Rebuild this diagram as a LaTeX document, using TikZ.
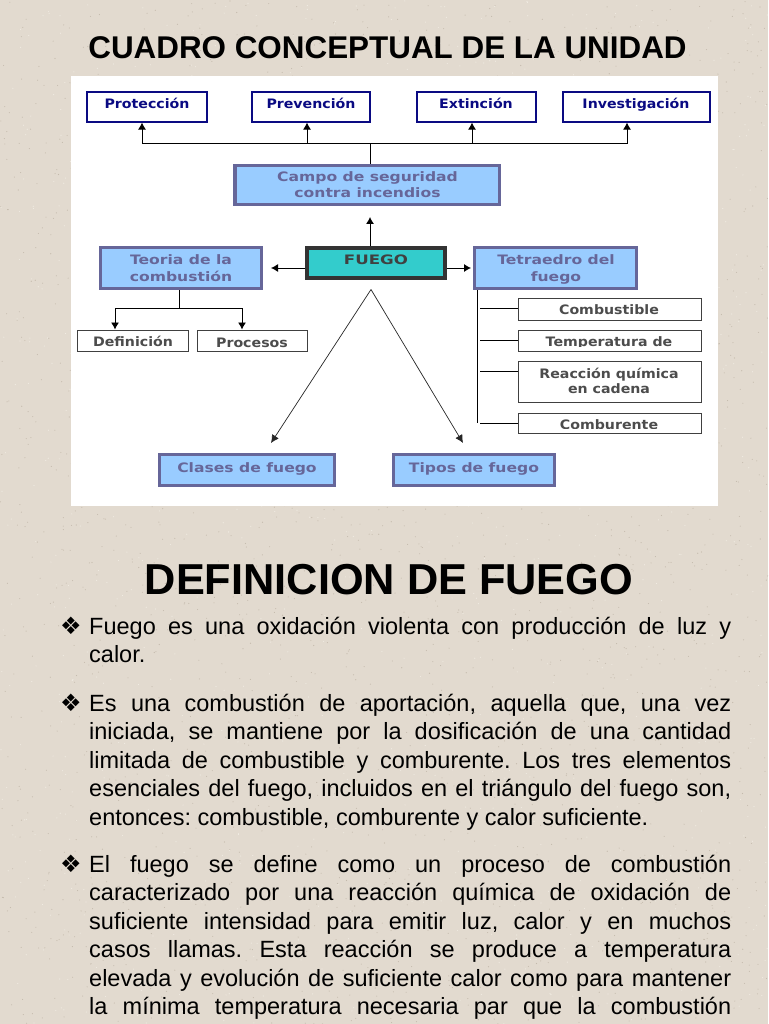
\documentclass[tikz,border=0pt]{standalone}
\usepackage{fontspec}
\setmainfont{Liberation Sans}
\newfontfamily\dv{DejaVu Sans}
\newfontfamily\dvt[FakeStretch=1.09]{DejaVu Sans}
\newfontfamily\dvb[FakeStretch=1.2]{DejaVu Sans}
\newfontfamily\dvf[FakeStretch=1.28]{DejaVu Sans}
\usetikzlibrary{arrows.meta}
\definecolor{paper}{RGB}{226,218,207}
\definecolor{speckA}{RGB}{196,186,172}
\definecolor{speckB}{RGB}{240,235,226}
\definecolor{navy}{RGB}{10,10,130}
\definecolor{slate}{RGB}{102,102,153}
\definecolor{sky}{RGB}{153,204,255}
\definecolor{teal}{RGB}{51,204,204}
\newcommand{\jl}[1]{\hbox to 642pt{#1}}
\newcommand{\para}[1]{\vtop{\hsize=642pt\baselineskip=28.5pt\lineskiplimit=-20pt\frenchspacing\fontsize{23.5}{28.5}\selectfont #1}}
\tikzset{
  x=1pt,y=-1pt,
  topbox/.style={draw=navy,line width=1.2pt,fill=white,inner sep=0pt},
  toptext/.style={text=navy,font=\dvt\bfseries\fontsize{13}{15}\selectfont,inner sep=0pt},
  bluebox/.style={draw=slate,line width=3.5pt,fill=sky,inner sep=0pt},
  bluetext/.style={text=slate,font=\dvb\bfseries\fontsize{13}{16}\selectfont,inner sep=0pt,align=center},
  firebox/.style={draw=black!80,line width=3.5pt,fill=teal,inner sep=0pt},
  firetext/.style={text=black!75,font=\dvf\bfseries\fontsize{13}{15}\selectfont,inner sep=0pt},
  whitebox/.style={draw=black!75,line width=1pt,fill=white,inner sep=0pt},
  whitetext/.style={text=black!70,font=\dvt\bfseries\fontsize{13}{15}\selectfont,inner sep=0pt,align=center},
  link/.style={draw=black,line width=0.9pt},
  arrow/.style={link,-{Latex[length=7pt,width=8pt]}},
  thinarrow/.style={draw=black!85,line width=0.7pt,-{Latex[length=8pt,width=8pt]}},
  bodytext/.style={anchor=base west,inner sep=0pt},
  bullet/.style={anchor=base west,inner sep=0pt,font=\dv\fontsize{24}{26}\selectfont},
}
\newcommand{\boxat}[6]{\node[#1,minimum width=#4-#2,minimum height=#5-#3,anchor=center] (#6) at ({(#2+#4)/2},{(#3+#5)/2})}
\begin{document}
\begin{tikzpicture}
\useasboundingbox (0,0) rectangle (768,1024);
\fill[paper] (0,0) rectangle (768,1024);
\pgfmathsetseed{17}
\fill[speckA] \foreach \i in {1,...,2200}{ ({rnd*768},{rnd*1024}) circle[radius=0.55] };
\fill[speckB] \foreach \i in {1,...,1200}{ ({rnd*768},{rnd*1024}) circle[radius=0.6] };
\fill[white] (71,76) rectangle (718,506);

\node[anchor=base,inner sep=0pt,font=\bfseries\fontsize{31.4}{36}\selectfont] (title) at (387.5,59) {CUADRO CONCEPTUAL DE LA UNIDAD};

% top row
\boxat{topbox}{87}{92}{207}{122}{prot} {};
\boxat{topbox}{252}{92}{370}{122}{prev} {};
\boxat{topbox}{417}{92}{536}{122}{ext} {};
\boxat{topbox}{563}{92}{710}{122}{inv} {};
\node[toptext] (protT) at (147,103.5) {Protección};
\node[toptext] (prevT) at (311,103.5) {Prevención};
\node[toptext] (extT) at (476,103.5) {Extinción};
\node[toptext] (invT) at (636,105) {Investigación};

% blue boxes
\boxat{bluebox}{235}{165.5}{499.5}{204.5}{campo} {};
\node[bluetext] (campoT) at (367.5,185) {Campo de seguridad\\contra incendios};
\boxat{firebox}{307}{248}{445}{278}{fuego} {};
\node[firetext] (fuegoT) at (376,260) {FUEGO};
\boxat{bluebox}{100.5}{247.5}{261.5}{288.5}{teoria} {};
\node[bluetext,font=\dvb\bfseries\fontsize{13}{17}\selectfont] (teoriaT) at (181,268.5) {Teoria de la\\combustión};
\boxat{bluebox}{474.5}{247.5}{636.5}{288.5}{tetra} {};
\node[bluetext,font=\dvb\bfseries\fontsize{13}{17}\selectfont] (tetraT) at (556,269.5) {Tetraedro del\\fuego};
\boxat{bluebox}{159.5}{454.5}{334.5}{485.5}{clases} {};
\node[bluetext] (clasesT) at (247,469) {Clases de fuego};
\boxat{bluebox}{393.5}{454.5}{554.5}{485.5}{tipos} {};
\node[bluetext] (tiposT) at (474,469) {Tipos de fuego};

% white boxes
\boxat{whitebox}{77}{330}{188}{351}{defi} {};
\node[whitetext] (defiT) at (133,341.5) {Definición};
\boxat{whitebox}{197}{330}{307}{351}{proc} {};
\node[whitetext] (procT) at (252,342.5) {Procesos};
\boxat{whitebox}{518}{298}{701}{320}{combu} {};
\node[whitetext] (combuT) at (609,310) {Combustible};
\boxat{whitebox}{518}{330}{701}{351}{temp} {};
\begin{scope}
\clip (518,330) rectangle (701,346);
\node[whitetext] (tempT) at (609,343) {Temperatura de};
\end{scope}
\boxat{whitebox}{518}{361}{701}{402}{reac} {};
\node[whitetext] (reacT) at (609,381) {Reacción química\\en cadena};
\boxat{whitebox}{518}{413}{701}{433}{combr} {};
\begin{scope}
\clip (518,413) rectangle (701,428.5);
\node[whitetext] (combrT) at (609,425) {Comburente};
\end{scope}

% top tree
\coordinate (bus) at (370,143);
\draw[link] (campo.north -| bus) -- (bus);
\draw[arrow] (bus) -| (prot.south -| 142,0);
\draw[arrow] (bus) -| (prev.south -| 307,0);
\draw[arrow] (bus) -| (ext.south -| 472,0);
\draw[arrow] (bus) -| (inv.south -| 627,0);

% around FUEGO
\coordinate (tipCampo) at (370,217);
\coordinate (tipTeoria) at (271,268);
\coordinate (tipTetra) at (471,268);
\draw[arrow] (fuego.north -| tipCampo) -- (tipCampo);
\draw[arrow] (fuego.west |- tipTeoria) -- (tipTeoria);
\draw[arrow] (fuego.east |- tipTetra) -- (tipTetra);

% apex
\coordinate (apex) at (371,289.5);
\coordinate (tipClases) at (271,443);
\coordinate (tipTipos) at (463,443);
\draw[thinarrow] (apex) -- (tipClases);
\draw[thinarrow] (apex) -- (tipTipos);

% teoria tree
\coordinate (tb) at (179,308);
\draw[link] (teoria.south -| tb) -- (tb);
\draw[arrow] (tb) -| (defi.north -| 115,0);
\draw[arrow] (tb) -| (proc.north -| 242,0);

% tetra tree
\coordinate (sp) at (477,423);
\draw[link] (tetra.south -| sp) -- (sp);
\coordinate (s1) at (480,308);
\coordinate (s2) at (480,340);
\coordinate (s3) at (480,371);
\coordinate (s4) at (480,423);
\draw[link] (s1) -- (s1 -| combu.west);
\draw[link] (s2) -- (s2 -| temp.west);
\draw[link] (s3) -- (s3 -| reac.west);
\draw[link] (s4) -- (s4 -| combr.west);

% lower slide
\node[anchor=base,inner sep=0pt,font=\bfseries\fontsize{43.3}{50}\selectfont] (def) at (389,594) {DEFINICION DE FUEGO};

\node[bullet] (b1) at (60,634) {❖};
\node[bodytext] (p1) at (89,634) {\para{\jl{Fuego es una oxidación violenta con producción de luz y}\hbox{calor.}}};
\node[bullet] (b2) at (60,711) {❖};
\node[bodytext] (p2) at (89,711) {\para{\jl{Es una combustión de aportación, aquella que, una vez}\jl{iniciada, se mantiene por la dosificación de una cantidad}\jl{limitada de combustible y comburente. Los tres elementos}\jl{esenciales del fuego, incluidos en el triángulo del fuego son,}\hbox{entonces: combustible, comburente y calor suficiente.}}};
\node[bullet] (b3) at (60,872) {❖};
\node[bodytext] (p3) at (89,872) {\para{\jl{El fuego se define como un proceso de combustión}\jl{caracterizado por una reacción química de oxidación de}\jl{suficiente intensidad para emitir luz, calor y en muchos}\jl{casos llamas. Esta reacción se produce a temperatura}\jl{elevada y evolución de suficiente calor como para mantener}\jl{la mínima temperatura necesaria par que la combustión}}};
\end{tikzpicture}
\end{document}
